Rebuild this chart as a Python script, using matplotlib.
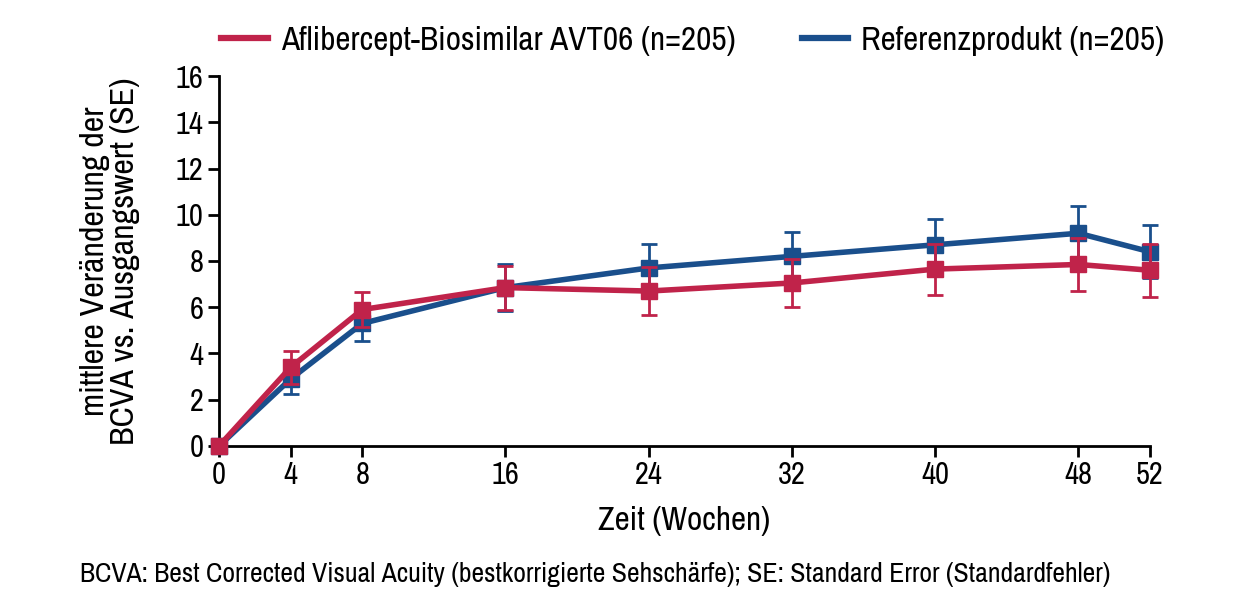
import matplotlib
matplotlib.use("Agg")
import matplotlib.pyplot as plt
from matplotlib import font_manager
from matplotlib.lines import Line2D

weeks = [0, 4, 8, 16, 24, 32, 40, 48, 52]
biosimilar = [0, 3.4, 5.9, 6.85, 6.7, 7.05, 7.65, 7.85, 7.6]
biosimilar_se = [0, 0.7, 0.75, 0.95, 1.05, 1.05, 1.1, 1.15, 1.15]
referenz = [0, 2.9, 5.3, 6.85, 7.7, 8.2, 8.7, 9.2, 8.4]
referenz_se = [0, 0.65, 0.75, 1.0, 1.05, 1.05, 1.1, 1.2, 1.15]
label_bio = "Aflibercept-Biosimilar AVT06 (n=205)"
label_ref = "Referenzprodukt (n=205)"

names = {f.name for f in font_manager.fontManager.ttflist}
narrow = [n for n in sorted(names) if ('Condensed' in n or 'Narrow' in n)]
if narrow:
    fam = narrow[0]
    scale = 1.29
else:
    fam = "DejaVu Sans"
    scale = 1.0
plt.rcParams['font.family'] = [fam, 'DejaVu Sans']

red = "#C0234A"
blue = "#1A4F8C"

fig = plt.figure(figsize=(12.53, 6.0), dpi=100)
ax = fig.add_axes([0.1748, 0.2567, 0.743, 0.6166])

ax.errorbar(weeks, referenz, yerr=referenz_se, color=blue, lw=4, marker='s', ms=11,
            capsize=6, elinewidth=2, capthick=2, zorder=3)
ax.errorbar(weeks, biosimilar, yerr=biosimilar_se, color=red, lw=4, marker='s', ms=11,
            capsize=6, elinewidth=2, capthick=2, zorder=4)

ax.set_xlim(0, 52)
ax.set_ylim(0, 16)
ax.set_xticks(weeks)
ax.set_yticks(range(0, 17, 2))
for s in ['top', 'right']:
    ax.spines[s].set_visible(False)
for s in ['left', 'bottom']:
    ax.spines[s].set_linewidth(2)
ax.tick_params(direction='out', length=8, width=2, labelsize=17 * scale, pad=3)
for line in ax.lines:
    line.set_clip_on(False)
for c in ax.collections:
    c.set_clip_on(False)

ax.set_xlabel("Zeit (Wochen)", fontsize=18.5 * scale, labelpad=12)
ax.set_ylabel("mittlere Veränderung der\nBCVA vs. Ausgangswert (SE)", fontsize=19 * scale,
              labelpad=26, linespacing=1.0)

h = [Line2D([], [], color=red, lw=4.5), Line2D([], [], color=blue, lw=4.5)]
fig.legend(h, [label_bio, label_ref], loc='center', bbox_to_anchor=(0.553, 0.932),
           ncol=2, frameon=False, fontsize=18.5 * scale, handlelength=1.4, columnspacing=2.0,
           handletextpad=0.4)

fig.text(0.064, 0.042, "BCVA: Best Corrected Visual Acuity (bestkorrigierte Sehschärfe); SE: Standard Error (Standardfehler)",
         fontsize=15.5 * scale, ha='left', va='center')

fig.savefig("out.png", dpi=100)
